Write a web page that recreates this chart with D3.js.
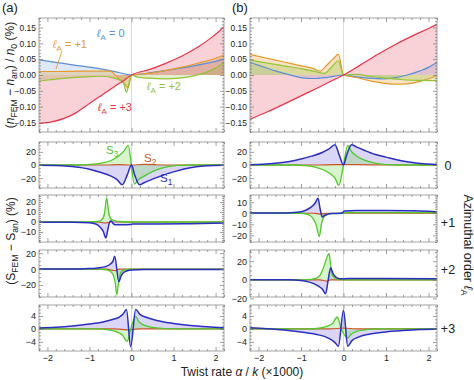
<!DOCTYPE html>
<html><head><meta charset="utf-8">
<script src="https://cdn.jsdelivr.net/npm/d3@7"></script>
<style>
body{margin:0;background:#fff}
svg{font-family:"Liberation Sans",Arial,Helvetica,sans-serif}
</style>
</head><body>
<svg id="c" width="474" height="380"></svg>
<script>
// ---------- data ----------
const xDomain = [-2.2, 2.2];
const xTicks = [-2, -1, 0, 1, 2];
const topTicks = [-0.15, -0.10, -0.05, 0, 0.05, 0.10, 0.15];
const orderLabels = ["0", "+1", "+2", "+3"];

// top panel (a): (n_FEM - n_an)/n0 (%) for l_A = 0, +1, +2, +3
const topA_l0 = [[-2.2,0.048],[-1.8,0.04],[-1.4,0.032],[-1.0,0.025],[-0.6,0.016],[-0.3,0.008],[0,0],[0.4,0.006],[0.8,0.014],[1.2,0.022],[1.6,0.032],[2.0,0.043],[2.2,0.05]];
const topA_l1 = [[-2.2,0.011],[-1.8,0.011],[-1.2,0.012],[-0.8,0.012],[-0.52,0.012],[-0.3,-0.012],[-0.15,-0.03],[-0.08,-0.04],[0,0],[0.4,0.005],[0.8,0.014],[1.2,0.025],[1.6,0.038],[2.0,0.053],[2.2,0.063]];
const topA_l2 = [[-2.2,-0.019],[-1.8,-0.013],[-1.4,-0.008],[-1.0,-0.005],[-0.7,-0.004],[-0.42,-0.01],[-0.2,-0.022],[-0.12,-0.055],[-0.04,-0.015],[0,0],[0.1,-0.005],[0.4,-0.01],[0.8,-0.012],[1.2,-0.009],[1.5,-0.002],[1.8,0.01],[2.0,0.022],[2.2,0.04]];
const topA_l3 = [[-2.2,-0.153],[-1.9,-0.148],[-1.6,-0.137],[-1.3,-0.118],[-1.0,-0.09],[-0.7,-0.063],[-0.4,-0.036],[-0.2,-0.019],[0,0],[0.4,0.016],[0.8,0.036],[1.2,0.06],[1.6,0.09],[1.9,0.118],[2.2,0.152]];

// top panel (b)
const topB_l0 = [[-2.2,0.04],[-1.9,0.026],[-1.6,0.013],[-1.3,0.002],[-1.0,-0.008],[-0.7,-0.011],[-0.4,-0.008],[0,0],[0.3,-0.006],[0.6,-0.01],[0.9,-0.012],[1.2,-0.009],[1.5,0.0],[1.8,0.013],[2.0,0.024],[2.2,0.04]];
const topB_l1 = [[-2.2,0.065],[-1.8,0.053],[-1.4,0.041],[-1.0,0.029],[-0.7,0.02],[-0.55,0.012],[-0.4,0.03],[-0.25,0.05],[-0.12,0.065],[0,0],[0.3,-0.008],[0.6,-0.018],[0.9,-0.025],[1.2,-0.029],[1.5,-0.028],[1.8,-0.02],[2.2,-0.003]];
const topB_l2 = [[-2.2,0.047],[-1.8,0.038],[-1.4,0.029],[-1.0,0.02],[-0.7,0.012],[-0.45,0.005],[-0.3,0.022],[-0.12,0.045],[0,0],[0.3,0.002],[0.6,-0.004],[1.0,-0.01],[1.4,-0.015],[1.8,-0.017],[2.2,-0.018]];
const topB_l3 = [[-2.2,-0.14],[-1.8,-0.117],[-1.4,-0.092],[-1.0,-0.066],[-0.6,-0.04],[-0.3,-0.02],[0,0],[0.4,0.032],[0.8,0.065],[1.2,0.095],[1.6,0.122],[2.0,0.147],[2.2,0.16]];

// Stokes parameter differences (%), S1, S2, S3, per azimuthal order
const p0a_S1 = [[-2.2,-0.2],[-1.8,-0.6],[-1.5,-1.8],[-1.2,-4],[-1.0,-6.5],[-0.75,-11],[-0.5,-16.5],[-0.35,-22],[-0.22,-30],[-0.1,-15],[0,0],[0.07,-14],[0.19,-30],[0.3,-27],[0.5,-21.5],[0.75,-15.5],[1.0,-10.5],[1.25,-6],[1.5,-3],[1.8,-1],[2.2,-0.2]];
const p0a_S2 = [[-2.2,0],[-0.6,0],[-0.3,0.6],[0,0],[0.3,0.8],[0.9,0],[2.2,0]];
const p0a_S3 = [[-2.2,0],[-1.3,0],[-1.0,0.8],[-0.75,2.5],[-0.5,6.5],[-0.3,14],[-0.18,21],[-0.08,30],[0.07,-29],[0.15,-23],[0.3,-17],[0.5,-10],[0.7,-5],[0.9,-2],[1.1,-0.6],[1.4,0],[2.2,0]];

const p0b_S1 = [[-2.2,0.3],[-1.9,1],[-1.6,2.5],[-1.3,5],[-1.0,9],[-0.75,13.5],[-0.5,19],[-0.35,24],[-0.2,31],[-0.1,15],[0,0],[0.07,14],[0.19,31],[0.3,27.5],[0.5,22],[0.75,16],[1.0,12],[1.25,8],[1.5,5],[1.8,2.2],[2.2,0.6]];
const p0b_S2 = [[-2.2,0],[-0.6,0],[-0.2,0.5],[0.3,0.5],[1.0,0],[2.2,0]];
const p0b_S3 = [[-2.2,0],[-1.2,0],[-0.9,-1],[-0.65,-3.5],[-0.45,-8],[-0.3,-14],[-0.2,-20],[-0.11,-31],[0,0],[0.1,30],[0.18,21],[0.3,14],[0.45,8.5],[0.6,5],[0.8,2],[1.0,0.6],[1.3,0],[2.2,0]];

const p1a_S1 = [[-2.2,-0.3],[-1.4,-0.3],[-1.0,-0.8],[-0.85,-2],[-0.75,-5],[-0.67,-9.5],[-0.61,-16],[-0.56,-7],[-0.52,0],[-0.48,1],[-0.44,-1.5],[-0.38,-2.8],[-0.2,-2.8],[-0.02,-2.6],[0.02,-2],[0.6,-2],[1.4,-1.7],[2.2,-1]];
const p1a_S2 = [[-2.2,0],[-0.8,0],[-0.62,-1],[-0.5,0],[2.2,0]];
const p1a_S3 = [[-2.2,0],[-1.0,0],[-0.8,0.5],[-0.7,2.5],[-0.64,9],[-0.59,24],[-0.54,9],[-0.49,3],[-0.42,1.5],[-0.3,0.5],[0,0],[2.2,0]];

const p1b_S1 = [[-2.2,0.3],[-1.4,0.3],[-1.1,0.8],[-0.9,2.5],[-0.78,5],[-0.67,9],[-0.6,13.5],[-0.55,4],[-0.5,-3.5],[-0.45,-2],[-0.38,-1],[-0.25,-0.3],[-0.05,0],[0.03,2],[0.3,2.5],[1.0,2.5],[1.6,2.3],[2.0,1.7],[2.2,1.2]];
const p1b_S2 = [[-2.2,0],[-0.7,0],[-0.55,-0.8],[-0.4,0],[2.2,0]];
const p1b_S3 = [[-2.2,0],[-1.0,0],[-0.85,-1],[-0.73,-4],[-0.64,-11],[-0.57,-21],[-0.52,-10],[-0.47,-4],[-0.4,-1.5],[-0.3,-0.3],[0,0],[0.1,0.5],[2.2,0.5]];

const p2a_S1 = [[-2.2,0],[-1.5,0],[-1.1,0.5],[-0.8,1.5],[-0.6,3.5],[-0.5,6.5],[-0.44,10],[-0.4,16],[-0.3,-16],[-0.25,-9],[-0.2,-5],[-0.1,-2],[0,-1],[0.3,-0.5],[2.2,-0.5]];
const p2a_S2 = [[-2.2,0],[-0.6,0],[-0.4,-2],[-0.3,0],[2.2,0]];
const p2a_S3 = [[-2.2,0],[-0.8,0],[-0.6,-0.8],[-0.5,-3],[-0.43,-8],[-0.39,-16],[-0.35,-32],[-0.31,-18],[-0.26,-5],[-0.2,-1.5],[-0.1,-0.3],[0,0],[2.2,0]];

const p2b_S1 = [[-2.2,0],[-1.3,0],[-1.0,-0.8],[-0.8,-2.5],[-0.62,-6],[-0.5,-10],[-0.42,-15],[-0.36,0],[-0.3,13],[-0.25,7],[-0.18,3],[-0.08,1],[0,1],[0.1,1.3],[1.0,1.3],[2.2,1.2]];
const p2b_S2 = [[-2.2,0],[-0.55,0],[-0.4,-1.5],[-0.3,0],[2.2,0]];
const p2b_S3 = [[-2.2,0],[-1.0,0],[-0.75,0.5],[-0.62,2],[-0.55,5],[-0.48,12],[-0.42,20],[-0.34,28],[-0.3,15],[-0.26,5],[-0.2,2],[-0.1,0.5],[0,0],[2.2,0]];

const p3a_S1 = [[-2.2,0.3],[-1.8,0.5],[-1.4,0.9],[-1.0,1.5],[-0.7,2.1],[-0.45,2.9],[-0.3,3.6],[-0.2,4.6],[-0.12,6],[-0.02,-5.5],[0.1,6],[0.2,4.5],[0.35,3.6],[0.6,2.6],[1.0,1.7],[1.4,1.1],[1.8,0.7],[2.2,0.4]];
const p3a_S2 = [[-2.2,0],[-0.4,0],[-0.1,-0.3],[0.2,0],[2.2,0]];
const p3a_S3 = [[-2.2,0],[-0.8,0],[-0.55,-0.3],[-0.35,-0.9],[-0.22,-1.8],[-0.1,-3.8],[-0.02,0],[0.1,3.8],[0.18,2.2],[0.3,1.2],[0.5,0.5],[0.8,0.1],[1.2,0],[2.2,0]];

const p3b_S1 = [[-2.2,0.4],[-1.8,0.1],[-1.4,-0.3],[-1.0,-0.9],[-0.7,-1.5],[-0.45,-2.3],[-0.3,-3.2],[-0.2,-4.2],[-0.12,-5.3],[0,5.8],[0.1,-5.3],[0.2,-3.6],[0.35,-2.5],[0.6,-1.6],[1.0,-0.9],[1.4,-0.5],[1.8,-0.2],[2.2,0]];
const p3b_S2 = [[-2.2,0],[-0.3,0],[0,0.3],[0.3,0],[2.2,0]];
const p3b_S3 = [[-2.2,0],[-0.8,0],[-0.55,0.3],[-0.38,0.9],[-0.25,1.8],[-0.15,3.7],[-0.05,0],[0.1,-2.8],[0.18,-1.6],[0.3,-0.8],[0.5,-0.3],[0.8,0],[2.2,0]];

// ---------- style ----------
const C = {l0:"#5b8fd5", l1:"#e59a2c", l2:"#94c23a", l3:"#e4344a",
           S1:"#2a2fbf", S2:"#c8552a", S3:"#4fc82a", S1f:"#8878e0", S3f:"#7ed957"};
const XA = [39, 224], XB = [250, 437];
const svg = d3.select("#c");
let clipN = 0;

const fmtTop = d => d === 0 ? "0.00" : (d < 0 ? "\u2212" : "") + Math.abs(d).toFixed(2);
const fmtInt = d => d < 0 ? "\u2212" + (-d) : String(d);

function styleAxis(g, fs) {
  g.select(".domain").remove();
  g.selectAll(".tick line").attr("stroke", "#777").attr("stroke-width", 0.7);
  g.selectAll("text").attr("font-family", "Liberation Sans, Arial, sans-serif")
    .attr("font-size", fs).attr("fill", "#222");
}

function panel(cfg) {
  const x = d3.scaleLinear().domain(xDomain).range(cfg.xr);
  const y = d3.scaleLinear().domain(cfg.ydom).range([cfg.yr[1], cfg.yr[0]]);
  const g = svg.append("g");
  const id = "clip" + (clipN++);
  g.append("clipPath").attr("id", id).append("rect")
    .attr("x", cfg.xr[0]).attr("y", cfg.yr[0])
    .attr("width", cfg.xr[1] - cfg.xr[0]).attr("height", cfg.yr[1] - cfg.yr[0]);
  const inner = g.append("g").attr("clip-path", `url(#${id})`);
  inner.append("line").attr("x1", x(0)).attr("x2", x(0))
    .attr("y1", cfg.yr[0]).attr("y2", cfg.yr[1])
    .attr("stroke", "#d2d2d2").attr("stroke-width", 0.8);
  const area = d3.area().x(d => x(d[0])).y0(y(0)).y1(d => y(d[1])).curve(d3.curveMonotoneX);
  const line = d3.line().x(d => x(d[0])).y(d => y(d[1])).curve(d3.curveMonotoneX);
  cfg.series.filter(s => s.fill).forEach(s => {
    inner.append("path").attr("d", area(s.data)).attr("fill", s.fill)
      .attr("fill-opacity", s.fo).attr("stroke", "none");
  });
  cfg.series.forEach(s => {
    inner.append("path").attr("d", line(s.data)).attr("fill", "none")
      .attr("stroke", s.color).attr("stroke-width", s.w).attr("stroke-linejoin", "round");
  });
  g.append("rect").attr("x", cfg.xr[0]).attr("y", cfg.yr[0])
    .attr("width", cfg.xr[1] - cfg.xr[0]).attr("height", cfg.yr[1] - cfg.yr[0])
    .attr("fill", "none").attr("stroke", "#999").attr("stroke-width", 0.9);
  const xMinor = d3.range(-22, 23, 2).filter(v => v % 10 !== 0).map(v => v / 10);
  const yMinor = d3.range(Math.ceil(cfg.ydom[0] / cfg.ymin), Math.floor(cfg.ydom[1] / cfg.ymin) + 1)
    .map(k => +(k * cfg.ymin).toFixed(4)).filter(v => !cfg.yticks.some(t => Math.abs(t - v) < 1e-6));
  // bottom
  const bMaj = d3.axisBottom(x).tickValues(xTicks).tickSize(-4).tickPadding(4)
    .tickFormat(cfg.xlabels ? fmtInt : "");
  styleAxis(g.append("g").attr("transform", `translate(0,${cfg.yr[1]})`).call(bMaj), 9);
  styleAxis(g.append("g").attr("transform", `translate(0,${cfg.yr[1]})`)
    .call(d3.axisBottom(x).tickValues(xMinor).tickSize(-2).tickFormat("")), 9);
  // top
  styleAxis(g.append("g").attr("transform", `translate(0,${cfg.yr[0]})`)
    .call(d3.axisTop(x).tickValues(xTicks).tickSize(-4).tickFormat("")), 9);
  styleAxis(g.append("g").attr("transform", `translate(0,${cfg.yr[0]})`)
    .call(d3.axisTop(x).tickValues(xMinor).tickSize(-2).tickFormat("")), 9);
  // left
  styleAxis(g.append("g").attr("transform", `translate(${cfg.xr[0]},0)`)
    .call(d3.axisLeft(y).tickValues(cfg.yticks).tickSize(-4).tickPadding(3).tickFormat(cfg.fmt)), cfg.fs);
  styleAxis(g.append("g").attr("transform", `translate(${cfg.xr[0]},0)`)
    .call(d3.axisLeft(y).tickValues(yMinor).tickSize(-2).tickFormat("")), 9);
  // right
  styleAxis(g.append("g").attr("transform", `translate(${cfg.xr[1]},0)`)
    .call(d3.axisRight(y).tickValues(cfg.yticks).tickSize(-4).tickFormat("")), 9);
  styleAxis(g.append("g").attr("transform", `translate(${cfg.xr[1]},0)`)
    .call(d3.axisRight(y).tickValues(yMinor).tickSize(-2).tickFormat("")), 9);
  return {x, y};
}

function topSeries(l0, l1, l2, l3) {
  return [
    {data: l0, color: C.l0, fill: C.l0, fo: 0.2, w: 1.2},
    {data: l1, color: C.l1, fill: C.l1, fo: 0.28, w: 1.2},
    {data: l2, color: C.l2, fill: C.l2, fo: 0.28, w: 1.2},
    {data: l3, color: C.l3, fill: C.l3, fo: 0.22, w: 1.2}
  ];
}
function stokesSeries(s1, s2, s3) {
  return [
    {data: s1, color: C.S1, fill: C.S1f, fo: 0.3, w: 1.5, hide: true},
    {data: s3, color: C.S3, fill: C.S3f, fo: 0.3, w: 1.3, hide: true}
  ].map(s => ({data: s.data, fill: s.fill, fo: s.fo, color: "none", w: 0}))
   .concat([
    {data: s2, color: C.S2, w: 1.2},
    {data: s3, color: C.S3, w: 1.3},
    {data: s1, color: C.S1, w: 1.5}
  ]);
}

const TOP = [18, 132];
const rows = [
  {yr:[142,188], a:{ydom:[-35,35], yticks:[-20,0,20], ymin:5, s:[p0a_S1,p0a_S2,p0a_S3]},
                 b:{ydom:[-35,35], yticks:[-20,0,20], ymin:5, s:[p0b_S1,p0b_S2,p0b_S3]}},
  {yr:[195,242], a:{ydom:[-20,27], yticks:[-10,0,10,20], ymin:2, s:[p1a_S1,p1a_S2,p1a_S3]},
                 b:{ydom:[-26,16.5], yticks:[-20,-10,0,10], ymin:2, s:[p1b_S1,p1b_S2,p1b_S3]}},
  {yr:[250,297], a:{ydom:[-35,24], yticks:[-20,0,20], ymin:5, s:[p2a_S1,p2a_S2,p2a_S3]},
                 b:{ydom:[-18.5,32], yticks:[-20,0,20], ymin:5, s:[p2b_S1,p2b_S2,p2b_S3]}},
  {yr:[305,351], a:{ydom:[-6.8,7.4], yticks:[-4,0,4], ymin:1, s:[p3a_S1,p3a_S2,p3a_S3]},
                 b:{ydom:[-6.8,7.4], yticks:[-4,0,4], ymin:1, s:[p3b_S1,p3b_S2,p3b_S3]}}
];

// top panels
const tA = panel({xr:XA, yr:TOP, ydom:[-0.18,0.18], yticks:topTicks, ymin:0.01, fmt:fmtTop, fs:8.5,
  series: topSeries(topA_l0, topA_l1, topA_l2, topA_l3), xlabels:false});
panel({xr:XB, yr:TOP, ydom:[-0.18,0.18], yticks:topTicks, ymin:0.01, fmt:fmtTop, fs:8.5,
  series: topSeries(topB_l0, topB_l1, topB_l2, topB_l3), xlabels:false});

let p0a = null;
rows.forEach((r, i) => {
  const last = i === rows.length - 1;
  const pa = panel({xr:XA, yr:r.yr, ydom:r.a.ydom, yticks:r.a.yticks, ymin:r.a.ymin, fmt:fmtInt, fs:9,
    series: stokesSeries(...r.a.s), xlabels:last});
  panel({xr:XB, yr:r.yr, ydom:r.b.ydom, yticks:r.b.yticks, ymin:r.b.ymin, fmt:fmtInt, fs:9,
    series: stokesSeries(...r.b.s), xlabels:last});
  if (i === 0) p0a = pa;
  svg.append("text").attr("x", 448).attr("y", (pa.y(0) + 4.5)).attr("text-anchor", "middle")
    .attr("font-size", 12.5).attr("fill", "#222").text(orderLabels[i]);
});

// ---------- text ----------
function sub(t, parts, fs) {
  // parts: [text, style] where style in {"i","sub","n"}
  parts.forEach(p => {
    const ts = t.append("tspan").text(p[0]);
    if (p[1] === "i") ts.attr("font-style", "italic");
    if (p[1] === "sub") ts.attr("font-size", fs * 0.72).attr("dy", fs * 0.28);
    if (p[1] === "unsub") ts.attr("dy", -fs * 0.28);
    if (p[1] === "isub") ts.attr("font-size", fs * 0.72).attr("dy", fs * 0.28).attr("font-style","italic");
  });
}

svg.append("text").attr("x", 2).attr("y", 12).attr("font-size", 13).attr("fill", "#222").text("(a)");
svg.append("text").attr("x", 232).attr("y", 12).attr("font-size", 13).attr("fill", "#222").text("(b)");

// top y title
{
  const fs = 12;
  const t = svg.append("text").attr("transform", "translate(14,75) rotate(-90)")
    .attr("text-anchor", "middle").attr("font-size", fs).attr("fill", "#222");
  sub(t, [["(", "n"], ["n", "i"], ["FEM", "sub"], [" \u2212 ", "unsub"], ["n", "i"], ["an", "sub"],
          [") / ", "unsub"], ["n", "i"], ["0", "sub"], [" (%)", "unsub"]], fs);
}
// bottom y title
{
  const fs = 12;
  const t = svg.append("text").attr("transform", "translate(15,241) rotate(-90)")
    .attr("text-anchor", "middle").attr("font-size", fs).attr("fill", "#222");
  sub(t, [["(S", "n"], ["FEM", "sub"], [" \u2212 S", "unsub"], ["an", "sub"], [") (%)", "unsub"]], fs);
}
// right title
{
  const fs = 12.5;
  const t = svg.append("text").attr("transform", "translate(464,245) rotate(90)")
    .attr("text-anchor", "middle").attr("font-size", fs).attr("fill", "#222");
  sub(t, [["Azimuthal order ", "n"], ["\u2113", "i"], ["A", "sub"]], fs);
}
// x title
{
  const fs = 12;
  const t = svg.append("text").attr("x", 242).attr("y", 376)
    .attr("text-anchor", "middle").attr("font-size", fs).attr("fill", "#222");
  sub(t, [["Twist rate ", "n"], ["\u03b1", "i"], [" / ", "n"], ["k", "i"], [" (\u00d71000)", "n"]], fs);
}

// annotations top (a)
function lab(x, y, color, val, fs) {
  const t = svg.append("text").attr("x", x).attr("y", y).attr("font-size", fs).attr("fill", color);
  sub(t, [["\u2113", "i"], ["A", "sub"], [" = " + val, "unsub"]], fs);
}
lab(53, 48, C.l1, "+1", 11);
lab(97, 37, C.l0, "0", 11);
lab(147, 90, C.l2, "+2", 11);
lab(98, 111, C.l3, "+3", 11);
svg.append("line").attr("x1", 62).attr("y1", 51).attr("x2", 56).attr("y2", 69)
  .attr("stroke", C.l1).attr("stroke-width", 0.9);

function slab(x, y, color, n) {
  const t = svg.append("text").attr("x", x).attr("y", y).attr("font-size", 11.5).attr("fill", color);
  sub(t, [["S", "n"], [n, "sub"]], 11.5);
}
slab(106, 154, C.S3, "3");
slab(144, 162, C.S2, "2");
slab(160, 182, C.S1, "1");
</script>
</body></html>
